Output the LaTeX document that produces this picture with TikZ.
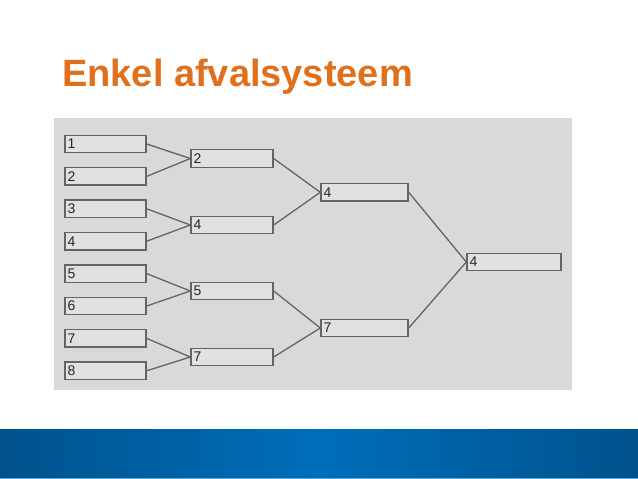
\documentclass[tikz,border=0pt]{standalone}
\usepackage{fontspec}
\setmainfont{Liberation Sans}
\usepackage{xcolor}
\usetikzlibrary{calc}
\definecolor{titleorange}{RGB}{224,112,28}
\definecolor{photogray}{RGB}{219,217,216}
\definecolor{boxgray}{RGB}{100,100,100}
\definecolor{bardark}{RGB}{0,82,140}
\definecolor{barlight}{RGB}{0,110,186}
\definecolor{barline}{RGB}{90,170,220}

\begin{document}
\begin{tikzpicture}[x=1pt,y=-1pt,
    box/.style={draw=boxgray,line width=1.4pt,fill=photogray!80!white,
      rectangle,minimum height=17.5pt,inner xsep=2.5pt,inner ysep=0pt,
      text width=#1,align=left,text=black!85,
      font=\fontsize{14}{14}\selectfont},
    link/.style={draw=boxgray,line width=1.3pt}]
    \useasboundingbox (0,0) rectangle (638,479);
    \path[fill=white] (0,0) rectangle (638,479);
    % slide title
    \node[anchor=base west,inner sep=0pt,text=titleorange,
      font=\fontsize{38}{40}\selectfont\bfseries] (title) at (62,86.7)
      {Enkel afvalsysteem};
    % photo of the bracket
    \path[fill=photogray] (54,118) rectangle (572,390);
    % first round
    \node[box=76pt] (r1) at (105.5,144) {1};
    \node[box=76pt] (r2) at (105.5,176.4) {2};
    \node[box=76pt] (r3) at (105.5,208.8) {3};
    \node[box=76pt] (r4) at (105.5,241.2) {4};
    \node[box=76pt] (r5) at (105.5,273.6) {5};
    \node[box=76pt] (r6) at (105.5,306) {6};
    \node[box=76pt] (r7) at (105.5,338.4) {7};
    \node[box=76pt] (r8) at (105.5,370.8) {8};
    % second round
    \node[box=77pt] (q1) at (232,158.5) {2};
    \node[box=77pt] (q2) at (232,225) {4};
    \node[box=77pt] (q3) at (232,291) {5};
    \node[box=77pt] (q4) at (232,357) {7};
    % semi finals
    \node[box=82pt] (h1) at (364.5,192.3) {4};
    \node[box=82pt] (h2) at (364.5,328) {7};
    % final
    \node[box=89pt] (fin) at (514,262) {4};
    \draw[link] (r1.east) -- (q1.west);
    \draw[link] (r2.east) -- (q1.west);
    \draw[link] (r3.east) -- (q2.west);
    \draw[link] (r4.east) -- (q2.west);
    \draw[link] (r5.east) -- (q3.west);
    \draw[link] (r6.east) -- (q3.west);
    \draw[link] (r7.east) -- (q4.west);
    \draw[link] (r8.east) -- (q4.west);
    \draw[link] (q1.east) -- (h1.west);
    \draw[link] (q2.east) -- (h1.west);
    \draw[link] (q3.east) -- (h2.west);
    \draw[link] (q4.east) -- (h2.west);
    \draw[link] (h1.east) -- (fin.west);
    \draw[link] (h2.east) -- (fin.west);
    % blue footer bar
    \shade[left color=bardark,right color=bardark,middle color=barlight]
      (0,429) rectangle (638,479);
    \path[fill=barline] (0,477.5) rectangle (638,479);
  \end{tikzpicture}
\end{document}
